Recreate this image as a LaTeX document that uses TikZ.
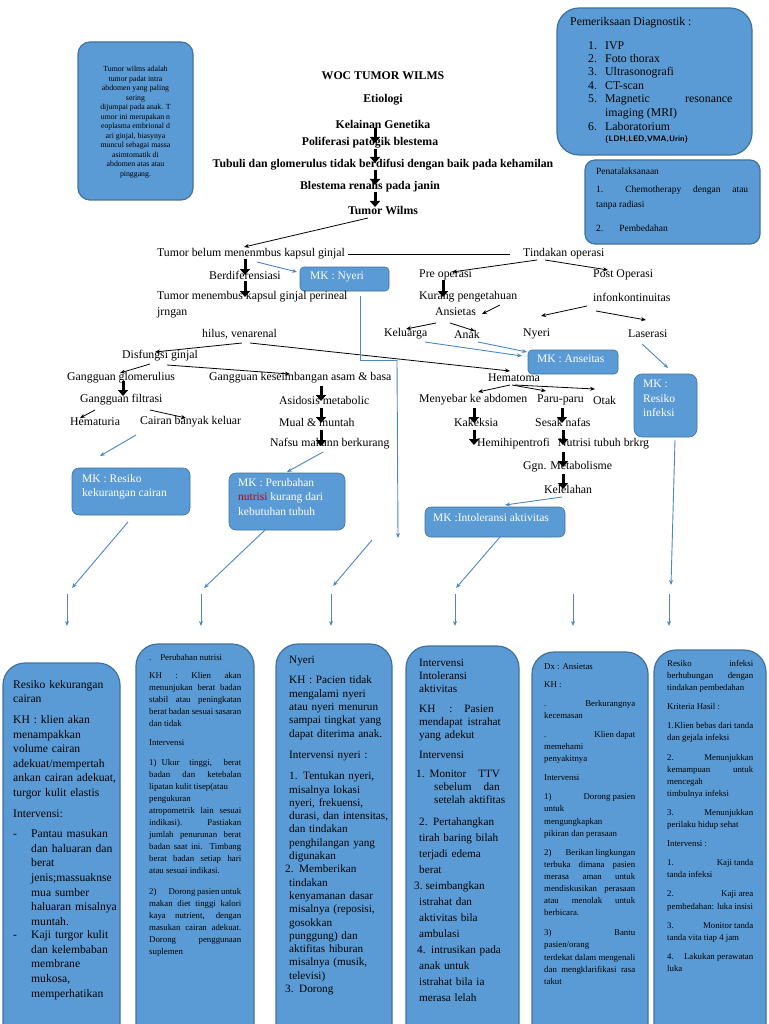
\documentclass[tikz,border=0pt]{standalone}
\usepackage{fontspec}
\setmainfont{Liberation Serif}
\usetikzlibrary{arrows.meta}
\definecolor{bx}{HTML}{5B9BD5}
\definecolor{bxe}{HTML}{41719C}
\definecolor{ar}{HTML}{4A86C8}
\hyphenpenalty=10000 \exhyphenpenalty=10000
\newcommand{\dashitem}[1]{\noindent\makebox[18pt][l]{-}\parbox[t]{86pt}{\raggedright #1\strut}\par}
\begin{document}
\begin{tikzpicture}[x=1pt,y=-1pt,
 t/.style={inner sep=0pt,anchor=west,font=\fontsize{11.8}{14}\selectfont},
 tl/.style={inner sep=0pt,anchor=base west,font=\fontsize{11.8}{14}\selectfont},
 tb/.style={inner sep=0pt,font=\bfseries\fontsize{11.8}{14}\selectfont},
 big/.style={line width=3pt,-{Triangle[width=10pt,length=6pt]}},
 thin/.style={line width=.8pt,-{Stealth[length=5pt,width=4pt]}},
 bl/.style={ar,line width=.9pt,-{Stealth[length=5pt,width=4pt]}},
 mk/.style={draw=bxe,fill=bx,rounded corners=4pt,line width=.6pt},
 bb/.style={draw=bxe,fill=bx,rounded corners=22pt,line width=1.2pt},
 bt/.style={inner sep=0pt,anchor=north west,execute at begin node={\tolerance=9999\emergencystretch=20pt}},
 mkt/.style={inner sep=0pt,anchor=north west,text=white,align=left,font=\fontsize{11.5}{14.5}\selectfont}]
\useasboundingbox (0,0) rectangle (768,1024);
\clip (0,0) rectangle (768,1024);
% top left box
\draw[bb,rounded corners=12pt] (78,42) rectangle (193,200);
\node[inner sep=0pt,align=center,font=\fontsize{7.8}{9.5}\selectfont] (def) at (135.5,122) {Tumor wilms adalah\\tumor padat intra\\abdomen yang paling\\sering\\dijumpai pada anak. T\\umor ini merupakan n\\eoplasma embrional d\\ari ginjal, biasynya\\muncul sebagai massa\\asimtomatik di\\abdomen atas atau\\pinggang.};
% title chain
\node[tb] (woc) at (383,76) {WOC TUMOR WILMS};
\node[tb] (eti) at (383,100) {Etiologi};
\node[tb] (kg) at (383,124) {Kelainan Genetika};
\node[tb] (pol) at (370,143) {Poliferasi patogik blestema};
\node[tb] (tub) at (383,165) {Tubuli dan glomerulus tidak berdifusi dengan baik pada kehamilan};
\node[tb] (ble) at (370,187) {Blestema renalis pada janin};
\node[tb] (tw) at (383,210) {Tumor Wilms};
\draw[big] (375,128) -- (375,143);
\draw[big] (375,149) -- (375,163);
\draw[big] (375,170) -- (375,185);
\draw[big] (375,192) -- (375,207);
% right top boxes
\draw[bb] (557,8) rectangle (752,155);
\node[t] (pd) at (570,23) {Pemeriksaan Diagnostik :};
\foreach \n/\s/\y in {1./IVP/50,2./Foto thorax/63,3./Ultrasonografi/76,4./CT-scan/90,5./Magnetic/103,6./Laboratorium/131}{
 \node[tl] at (588,\y) {\n};
 \node[tl] at (605,\y) {\s};}
\node[tl] (res) at (685,103) {resonance};
\node[tl] (mri) at (605,117) {imaging (MRI)};
\node[t,font=\sffamily\bfseries\fontsize{8}{9}\selectfont] (lab) at (605,140) {(LDH,LED,VMA,Urin)};
\draw[bb,rounded corners=10pt] (585,160) rectangle (760,244);
\node[t,font=\fontsize{9.5}{11}\selectfont] (pen) at (596,171) {Penatalaksanaan};
\node[bt,text width=152pt,align=justify,font=\fontsize{9.5}{15}\selectfont] (pen1) at (596,186) {1.\hspace{22pt}Chemotherapy dengan atau tanpa radiasi};
\node[t,font=\fontsize{9.5}{11}\selectfont] (pen2) at (596,228) {2.\hspace{16pt}Pembedahan};
% flow
\node[t] (tbm) at (157,254) {Tumor belum menenmbus kapsul ginjal};
\node[t] (tin) at (523,254) {Tindakan operasi};
\draw[line width=.4pt] (348,254) -- (510,254);
\draw[thin] (368,218) -- (244,247);
\node[t] (ber) at (209,275) {Berdiferensiasi};
\draw[mk] (300,267) rectangle (389,291);
\node[mkt] (mkn) at (310,272) {MK : Nyeri};
\draw[bl] (257,262) -- (297,272);
\node[t] (pre) at (419,275) {Pre operasi};
\node[t] (post) at (593,275) {Post Operasi};
\draw[thin] (537,260) -- (452,272);
\draw[thin] (545,260) -- (608,270);
\draw[big] (245,259) -- (245,275);
\draw[big] (245,281) -- (245,297);
\node[t] (tmk) at (157,297) {Tumor menembus kapsul ginjal perineal};
\node[t] (jrn) at (157,313) {jrngan};
\node[t] (kur) at (419,297) {Kurang pengetahuan};
\node[t] (inf) at (593,297) {infonkontinuitas};
\draw[big] (443,280) -- (443,297);
\node[t] (ans) at (435,312) {Ansietas};
\draw[thin] (500,305) -- (482,314);
\node[t] (hil) at (202,334) {hilus, venarenal};
\node[t] (kel) at (384,334) {Keluarga};
\node[t] (anak) at (454,334) {Anak};
\node[t] (ny) at (523,334) {Nyeri};
\node[t] (las) at (628,334) {Laserasi};
\draw[thin] (436,323) -- (406,329);
\draw[thin] (450,323) -- (475,331);
\draw[thin] (587,306) -- (541,316);
\draw[thin] (596,311) -- (646,320);
\draw[bl] (425,342) -- (522,356);
\draw[bl] (478,342) -- (527,352);
\draw[mk] (528,350) rectangle (618,374);
\node[mkt] (mka) at (537,355) {MK : Anseitas};
\draw[bl] (642,344) -- (668,368);
\draw[mk,rounded corners=8pt] (634,374) rectangle (697,437);
\node[mkt] (mkr) at (643,380) {MK :\\Resiko\\infeksi};
\node[t] (dis) at (122,356) {Disfungsi ginjal};
\draw[thin] (242,343) -- (155,352);
\draw[thin] (250,343) -- (510,371);
\draw[ar,line width=.7pt] (360,296) -- (360,360) -- (397,360);
\draw[bl] (397,360) -- (398,538);
\node[t] (gg) at (67,378) {Gangguan glomerulius};
\node[t] (gk) at (209,378) {Gangguan keseimbangan asam \& basa};
\node[t] (hem) at (488,378) {Hematoma};
\draw[thin] (150,364) -- (120,373);
\draw[thin] (167,365) -- (290,374);
\draw[big] (123,381) -- (123,396);
\node[t] (gf) at (80,400) {Gangguan filtrasi};
\node[t] (asi) at (279,400) {Asidosis metabolic};
\node[t] (men) at (419,400) {Menyebar ke abdomen};
\node[t] (par) at (537,400) {Paru-paru};
\node[t] (otak) at (593,400) {Otak};
\draw[thin] (510,385) -- (478,392);
\draw[thin] (512,385) -- (546,391);
\draw[thin] (515,385) -- (595,389);
\draw[big] (321,386) -- (321,401);
\node[t] (hmt) at (70,422) {Hematuria};
\node[t] (cbk) at (140,422) {Cairan banyak keluar};
\node[t] (mual) at (279,422) {Mual \& muntah};
\node[t] (kak) at (454,422) {Kakeksia};
\node[t] (ses) at (535,422) {Sesak nafas};
\draw[thin] (95,410) -- (80,418);
\draw[thin] (150,410) -- (186,418);
\draw[big] (321,408) -- (321,423);
\draw[big] (474,408) -- (474,423);
\draw[big] (562,408) -- (562,423);
\node[t] (naf) at (270,444) {Nafsu makann berkurang};
\node[t] (hemi) at (477,444) {Hemihipentrofi};
\node[t] (nut) at (558,444) {Nutrisi tubuh brkrg};
\draw[big] (321,430) -- (321,446);
\draw[big] (474,430) -- (474,445);
\draw[big] (563,430) -- (563,445);
\node[t] (ggn) at (523,467) {Ggn. Metabolisme};
\draw[big] (563,452) -- (563,467);
\node[t] (kll) at (544,489) {Kelelahan};
\draw[big] (563,474) -- (563,489);
\draw[bl] (136,435) -- (100,456);
\draw[bl] (323,452) -- (287,472);
\draw[bl] (562,497) -- (505,505);
\draw[mk,rounded corners=7pt] (72,468) rectangle (190,515);
\node[mkt] (mkk) at (82,474) {MK : Resiko\\kekurangan cairan};
\draw[mk,rounded corners=7pt] (229,473) rectangle (345,530);
\node[mkt] (mkp) at (238,478) {MK : Perubahan\\{\color{red!75!black}nutrisi} kurang dari\\kebutuhan tubuh};
\draw[mk,rounded corners=6pt] (425,507) rectangle (565,537);
\node[mkt] (mki) at (433,513) {MK :Intoleransi aktivitas};
% lower arrows
\draw[bl] (128,522) -- (72,588);
\draw[bl] (265,530) -- (204,588);
\draw[bl] (372,540) -- (333,586);
\draw[bl] (500,537) -- (456,588);
\draw[bl] (675,440) -- (671,585);
\foreach \x in {67,201,331,455,573,669} \draw[bl] (\x,594) -- (\x,626);
% bottom boxes
\draw[bb] (3,663) rectangle (120,1060);
\draw[bb] (136,644) rectangle (254,1060);
\draw[bb] (276,644) rectangle (392,1060);
\draw[bb] (406,646) rectangle (519,1060);
\draw[bb] (532,652) rectangle (648,1060);
\draw[bb] (654,650) rectangle (766,1060);
\node[bt,text width=104pt,align=left,font=\fontsize{11.6}{14.6}\selectfont] (b1) at (13,680) {Resiko kekurangan cairan\\[6pt]
KH : klien akan menampakkan volume cairan adekuat/mempertah ankan cairan adekuat, turgor kulit elastis\\[6pt]
Intervensi:\par\vspace{6pt}
\dashitem{Pantau masukan dan haluaran dan berat jenis;massuaknse mua sumber haluaran misalnya muntah.}
\dashitem{Kaji turgor kulit dan kelembaban membrane mukosa, memperhatikan}};
\node[bt,text width=92pt,align=justify,font=\fontsize{8.8}{12.1}\selectfont] (b2) at (149,654) {.\hspace{6pt} Perubahan nutrisi\par\vspace{6pt}
KH : Klien akan menunjukan berat badan stabil atau peningkatan berat badan sesuai sasaran dan tidak\par\vspace{7pt}
Intervensi\par\vspace{7pt}
1)\hspace{5pt}Ukur tinggi, berat badan dan ketebalan lipatan kulit tisep(atau\\ pengukuran\\ atropometrik lain sesuai indikasi). Pastiakan jumlah penurunan berat badan saat ini. Timbang berat badan setiap hari atau sesuai indikasi.\par\vspace{8pt}
2)\hspace{12pt}Dorong pasien untuk makan diet tinggi kalori kaya nutrient, dengan masukan cairan adekuat. Dorong penggunaan suplemen};
\node[bt,text width=100pt,align=left,font=\fontsize{11.2}{13.3}\selectfont] (b3) at (289,656) {Nyeri\\[7pt]
KH : Pacien tidak mengalami nyeri atau nyeri menurun sampai tingkat yang dapat diterima anak.\\[8pt]
Intervensi nyeri :\\[8pt]
1. Tentukan nyeri, misalnya lokasi nyeri, frekuensi, durasi, dan intensitas, dan tindakan penghilangan yang digunakan\\
\hspace*{-4pt}2. Memberikan\\tindakan\\kenyamanan dasar misalnya (reposisi, gosokkan\\punggung) dan aktifitas hiburan misalnya (musik, televisi)\\
\hspace*{-4pt}3. Dorong};
\node[bt,text width=88pt,align=left,font=\fontsize{11.2}{13}\selectfont] (b4) at (419,659) {Intervensi\\Intoleransi\\aktivitas\\[7pt]
KH\hspace{14pt}:\hspace{12pt}Pasien\\mendapat\hspace{5pt}istrahat\\yang adekut\\[7pt]
Intervensi\\[6pt]
\hspace*{-3pt}1.\hspace{5pt}Monitor\hspace{12pt}TTV\\\hspace*{15pt}sebelum\hspace{12pt}dan\\\hspace*{15pt}setelah aktifitas\\[9pt]
2. Pertahangkan\\[3pt]tirah baring bilah\\[3pt]terjadi edema\\[3pt]berat\\[3pt]
\hspace*{-5pt}3.\hspace{3pt}seimbangkan\\[3pt]istrahat dan\\[3pt]aktivitas bila\\[3pt]ambulasi\\[3pt]
\hspace*{-2pt}4. intrusikan pada\\[3pt]anak untuk\\[3pt]istrahat bila ia\\[3pt]merasa lelah};
\node[bt,text width=91pt,align=justify,font=\fontsize{8.8}{12.1}\selectfont] (b5) at (544,663) {Dx : Ansietas\par\vspace{6pt}
KH :\par\vspace{7pt}
.\hfill Berkurangnya\\ kecemasan\par\vspace{7pt}
.\hfill Klien dapat\\ memehami\\ penyakitnya\par\vspace{7pt}
Intervensi\par\vspace{7pt}
1)\hfill Dorong pasien\\ untuk\\ mengungkapkan\\ pikiran dan perasaan\par\vspace{7pt}
2)\hfill Berikan lingkungan terbuka dimana pasien merasa aman untuk mendiskusikan perasaan atau menolak untuk berbicara.\par\vspace{8pt}
3)\hfill Bantu\\ pasien/orang\\ terdekat dalam mengenali dan mengklarifikasi rasa takut};
\node[bt,text width=86pt,align=justify,font=\fontsize{8.8}{12.1}\selectfont] (b6) at (667,660) {Resiko infeksi berhubungan dengan tindakan pembedahan\par\vspace{7pt}
Kriteria Hasil :\par\vspace{7pt}
1.\hfill Klien bebas dari tanda dan gejala infeksi\par\vspace{7pt}
2.\hfill Menunjukkan kemampuan untuk mencegah\\ timbulnya infeksi\par\vspace{7pt}
3.\hfill Menunjukkan perilaku hidup sehat\par\vspace{7pt}
Intervensi :\par\vspace{7pt}
1.\hfill Kaji tanda\\ tanda infeksi\par\vspace{7pt}
2.\hfill Kaji area pembedahan: luka insisi\par\vspace{7pt}
3.\hfill Monitor tanda\\ tanda vita tiap 4 jam\par\vspace{7pt}
4.\hfill Lakukan perawatan luka};
\end{tikzpicture}
\end{document}
